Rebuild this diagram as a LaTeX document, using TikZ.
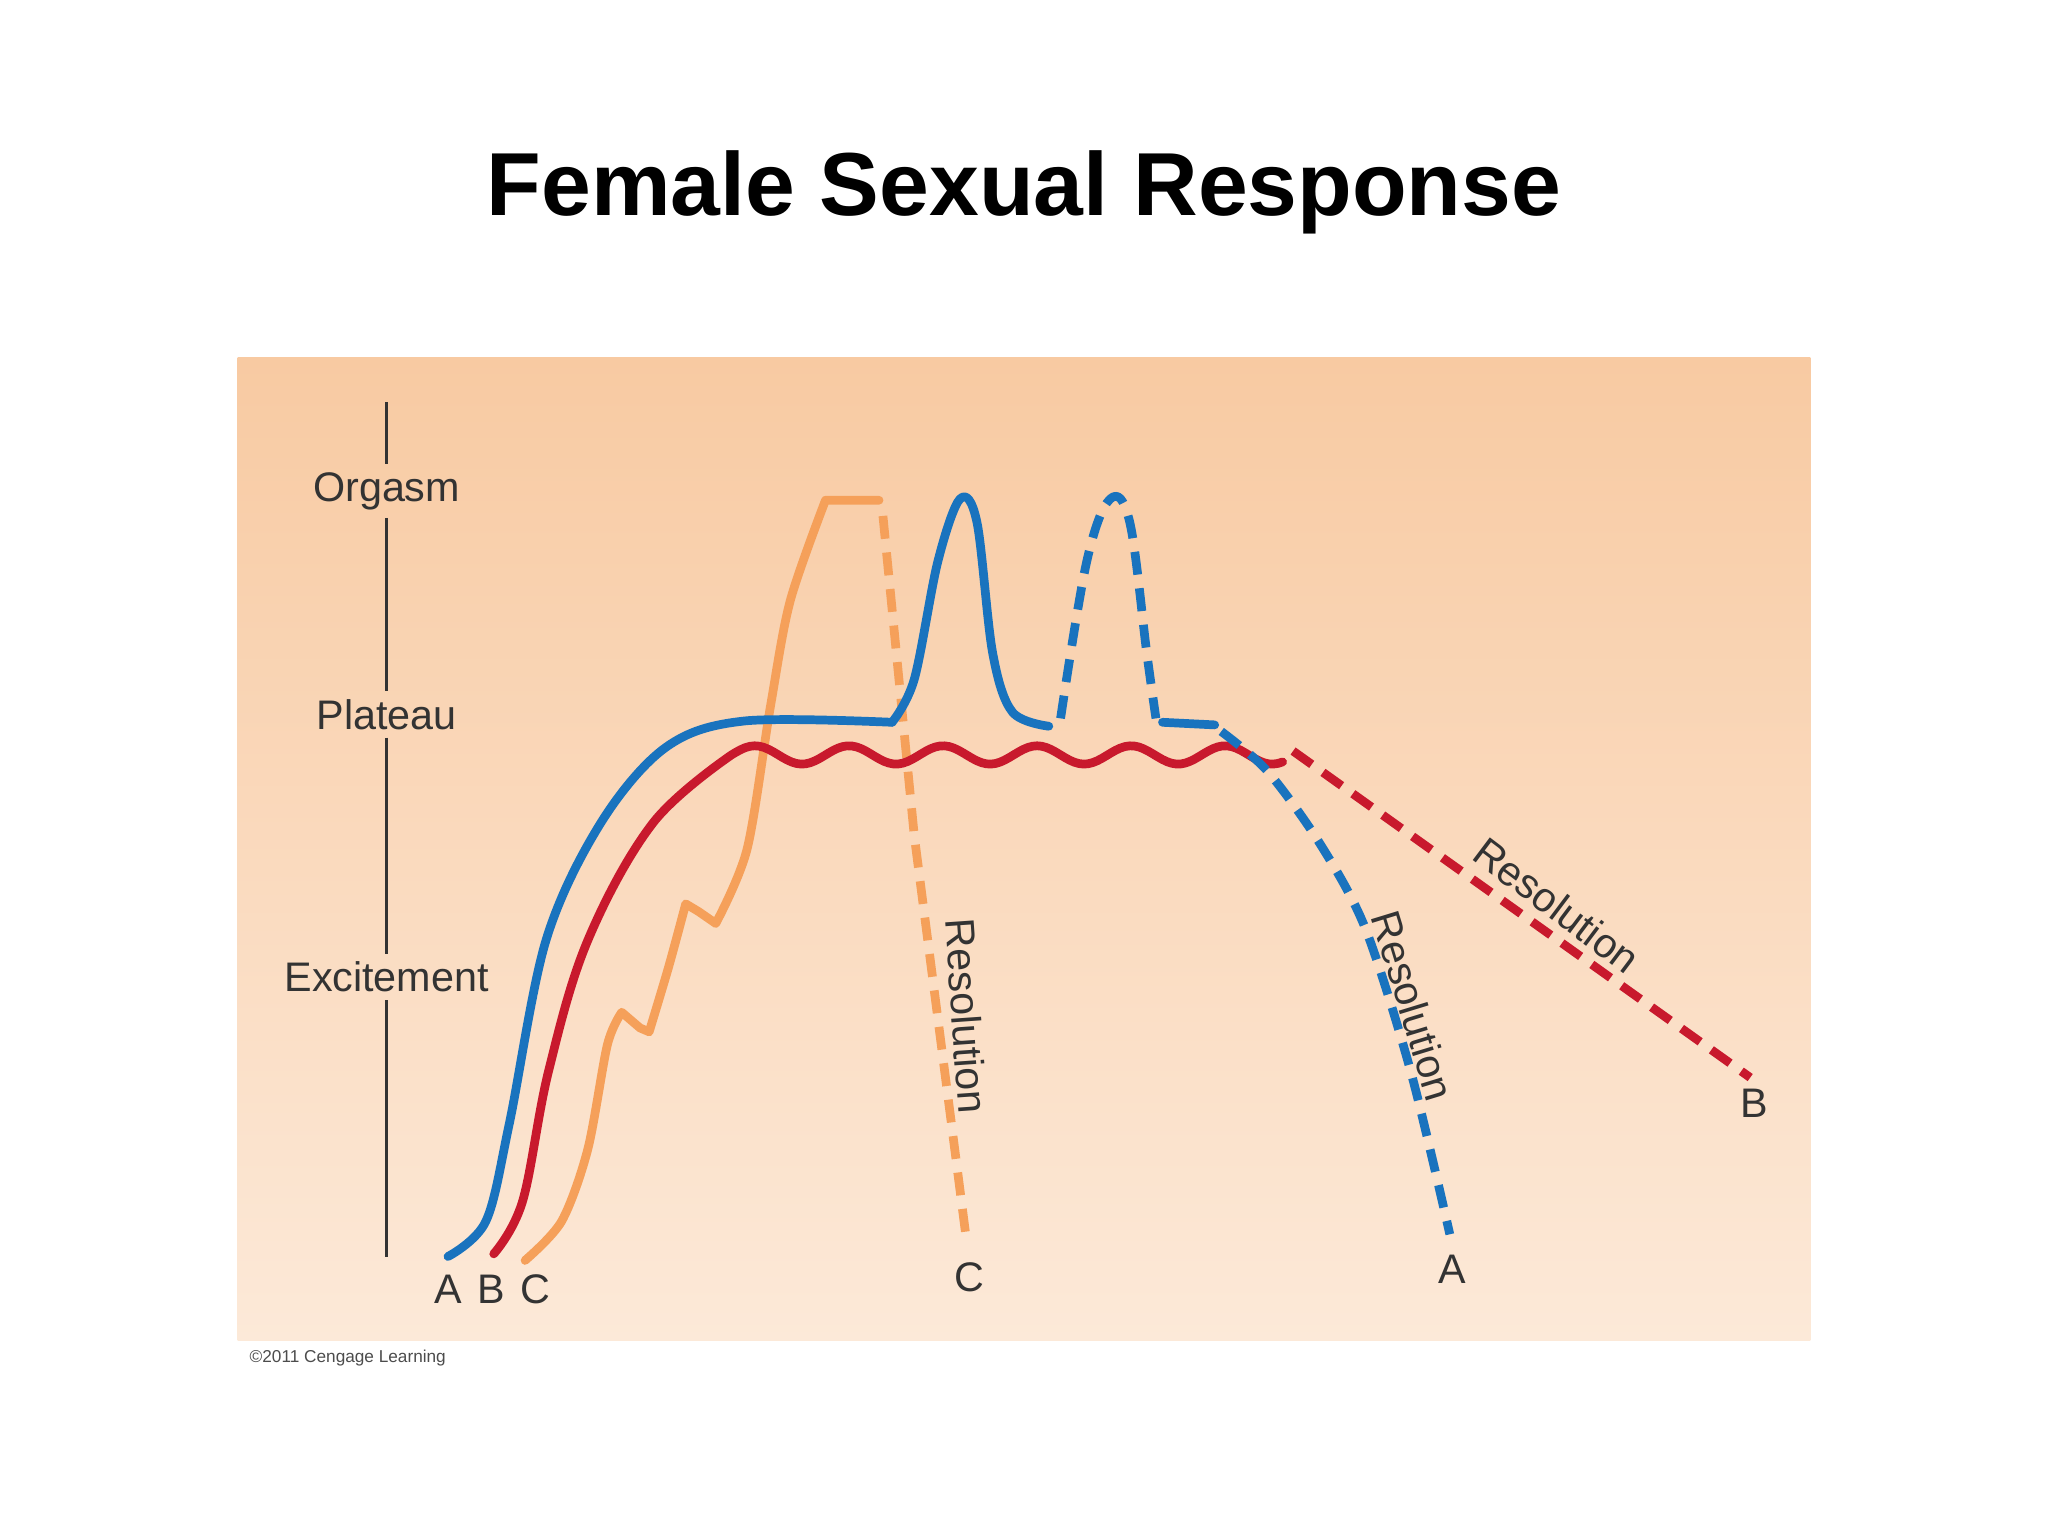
\documentclass[tikz,border=0pt]{standalone}
\usepackage{fontspec}
\setmainfont{Liberation Sans}
\begin{document}
\begin{tikzpicture}[x=0.02cm,y=-0.02cm,
  lbl/.style={text=black!80,font=\fontsize{18}{20}\selectfont},
  cv/.style={line width=3.8pt,line cap=round,line join=round},
  dsh/.style={cv,dash pattern=on 10pt off 6pt,line cap=butt}]
\definecolor{cblue}{RGB}{25,115,190}
\definecolor{cred}{RGB}{200,25,45}
\definecolor{corange}{RGB}{245,160,90}
\definecolor{bgtop}{RGB}{248,202,162}
\definecolor{bgbot}{RGB}{252,233,216}
\useasboundingbox (0,0) rectangle (1568,1176);
\node[font=\fontsize{39}{44}\selectfont\bfseries] (title) at (784,147) {Female Sexual Response};
\shade[top color=bgtop,bottom color=bgbot] (182,274) rectangle (1386,1026);
\node[anchor=west,font=\fontsize{7.5}{9}\selectfont,text=black!70] (copy) at (185,1040) {©2011 Cengage Learning};
% axis
\node[lbl] (org) at (296,376) {Orgasm};
\node[lbl] (pla) at (296,547) {Plateau};
\node[lbl] (exc) at (296,748) {Excitement};
\coordinate (top) at (296,308);
\coordinate (bot) at (296,962);
\draw[black!80,line width=1pt] (top) -- (org.north) (org.south) -- (pla.north) (pla.south) -- (exc.north) (exc.south) -- (bot);
% orange C
\draw[cv,corange] plot[smooth,tension=0.5] coordinates{(402,965) (430,935) (450,880) (465,800) (476,775)} -- (490,787) -- (497,790) plot[smooth,tension=0.5] coordinates{(497,790) (512,740) (525,692)} -- (535,698) -- (548,707) plot[smooth,tension=0.5] coordinates{(548,707) (572,650) (590,540) (605,460) (632,383)} -- (673,383);
\draw[dsh,corange] (676,395) -- (700,640) -- (740,950);
% red B
\draw[cv,cred] plot[smooth,tension=0.6] coordinates{(378,960) (400,920) (420,820) (450,720) (500,630) (560,578)}
  -- plot[domain=560:982,samples=120] (\x,{578-7*sin((\x-560)*5)});
\draw[dsh,cred] (990,575) -- (1340,825);
% blue A
\draw[cv,cblue] plot[smooth,tension=0.55] coordinates{(343,962) (372,935) (390,860) (418,720) (460,630) (510,572) (570,552) (683,553)};
\draw[cv,cblue] plot[smooth,tension=0.55] coordinates{(683,553) (700,520) (718,430) (735,382) (748,400) (760,500) (775,545) (803,556)};
\draw[dsh,cblue] plot[smooth,tension=0.6] coordinates{(812,550) (832,430) (850,382) (865,400) (878,500) (885,550)};
\draw[cv,cblue] (890,553) -- (930,555);
\draw[dsh,cblue] plot[smooth,tension=0.5] coordinates{(935,560) (970,590) (1010,645) (1045,710) (1080,820) (1110,945)};
% labels
\node[lbl] (lA) at (343,987) {A};
\node[lbl] (lB) at (376,987) {B};
\node[lbl] (lC) at (410,987) {C};
\node[lbl] (eC) at (742,978) {C};
\node[lbl] (eA) at (1112,972) {A};
\node[lbl] (eB) at (1343,845) {B};
\node[lbl,rotate=-86] (rC) at (740,778) {Resolution};
\node[lbl,rotate=-73] (rA) at (1082,770) {Resolution};
\node[lbl,rotate=-37] (rB) at (1192,693) {Resolution};
\end{tikzpicture}
\end{document}
